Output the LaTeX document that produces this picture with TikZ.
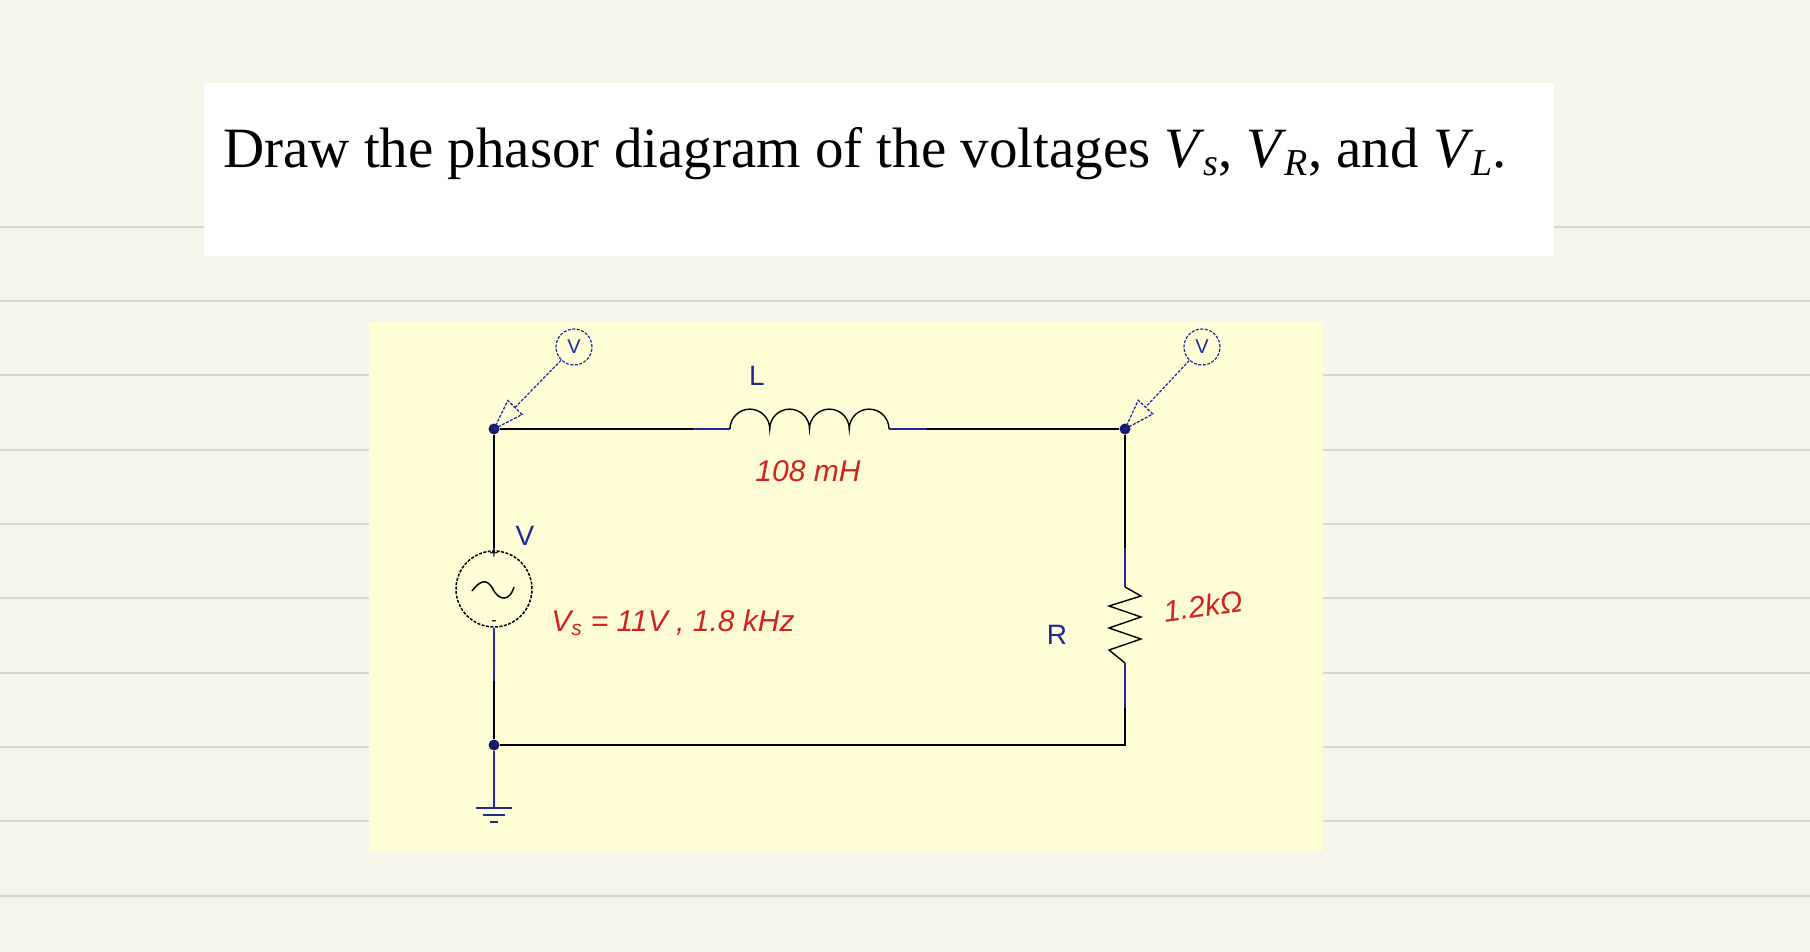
\documentclass[tikz,border=0pt]{standalone}
\usepackage{fontspec}
\setmainfont{Liberation Serif}
\newfontfamily\cadfont{Liberation Sans}
\usetikzlibrary{calc}
\definecolor{bgc}{HTML}{F5F5EA}
\definecolor{rulec}{HTML}{D6D6D0}
\definecolor{panel}{HTML}{FFFDD5}
\definecolor{wireblue}{HTML}{1E2A9A}
\definecolor{hand}{HTML}{D0231F}
\newcommand{\vsub}[1]{\textit{V}\kern-2pt\raisebox{-0.14em}{\fontsize{38}{38}\selectfont\textit{#1}}}
\tikzset{
  wire/.style={black, line width=1.6pt},
  lead/.style={wireblue, line width=1.6pt},
  probe/.style={wireblue, line width=1.2pt, dashed, dash pattern=on 3pt off 1.5pt},
  dotnode/.style={circle, fill=wireblue!70!black, inner sep=0pt, minimum size=11pt},
  vm/.style={circle, draw=wireblue, dash pattern=on 3pt off 1.5pt, line width=1.2pt, minimum size=36pt, inner sep=0pt, text=wireblue, font=\cadfont\fontsize{20}{20}\selectfont},
  cadlabel/.style={text=wireblue, font=\cadfont\fontsize{28}{28}\selectfont},
  handlabel/.style={text=hand, font=\cadfont\itshape\fontsize{30}{30}\selectfont}
}
\begin{document}
\begin{tikzpicture}[x=1pt,y=-1pt]
\fill[bgc] (0,0) rectangle (1810,952);
\useasboundingbox (0,0) rectangle (1810,952);
\foreach \yy in {227,301,375,450,524,598,673,747,821,896}
  \draw[rulec, line width=1.5pt] (0,\yy) -- (1810,\yy);
\fill[white] (204,83) rectangle (1554,256);
\node[anchor=base west, inner sep=0pt, font=\fontsize{57}{57}\selectfont] (title) at (223,168)
  {Draw the phasor diagram of the voltages \vsub{s}, \vsub{R}, and \vsub{L}.};
\fill[panel] (369,322) rectangle (1323,851);
% nodes
\node[dotnode] (n1) at (494,429) {};
\node[dotnode] (n2) at (1125,429) {};
\node[dotnode] (n3) at (494,745) {};
\coordinate (n4) at (1125,745);
% inductor
\coordinate (la) at (693,429); \coordinate (lb) at (730,429);
\coordinate (lc) at (889,429); \coordinate (ld) at (927,429);
\draw[wire] (n1) -- (la);
\draw[lead] (la) -- (lb);
\draw[black, line width=1.4pt] (lb) \foreach \i in {0,1,2,3} { arc[start angle=180,end angle=360,radius=19.875] };
\draw[lead] (lc) -- (ld);
\draw[wire] (ld) -- (n2);
\node[cadlabel] (lL) at (757,376) {L};
\node[handlabel] (lval) at (808,471) {108 mH};
% source
\node[circle, draw=black, dash pattern=on 3pt off 1.5pt, line width=1.5pt, minimum size=76pt, inner sep=0pt] (src) at (494,589) {};
\draw[black, line width=1.5pt] ($(src.center)+(-22,2)$) .. controls ($(src.center)+(-10,-14)$) and ($(src.center)+(-4,-6)$) .. ($(src.center)+(0,2)$) .. controls ($(src.center)+(6,12)$) and ($(src.center)+(16,12)$) .. ($(src.center)+(20,-2)$);
\node[font=\cadfont\fontsize{16}{16}\selectfont] (plus) at ($(src.north)+(0,4)$) {+};
\node[font=\cadfont\fontsize{16}{16}\selectfont] (minus) at ($(src.south)+(0,-5)$) {-};
\coordinate (sa) at (494,548); \coordinate (sb) at (494,681);
\draw[wire] (n1) -- (sa);
\draw[lead] (sa) -- (src.north);
\draw[lead] (src.south) -- (sb);
\draw[wire] (sb) -- (n3);
\node[cadlabel] (lV) at (525,536) {V};
\node[handlabel] (sval) at (673,623) {V\textsubscript{s} = 11V , 1.8 kHz};
% resistor
\coordinate (ra) at (1125,548); \coordinate (rb) at (1125,587);
\coordinate (rc) at (1125,663); \coordinate (rd) at (1125,708);
\draw[wire] (n2) -- (ra);
\draw[lead] (ra) -- (rb);
\draw[black, line width=1.4pt] (rb) -- ++(16,9) -- ++(-32,10) -- ++(32,11) -- ++(-32,11) -- ++(32,11) -- ++(-32,11) -- ++(16,13);
\draw[lead] (rc) -- (rd);
\draw[wire] (rd) -- (n4) -- (n3);
\node[cadlabel] (lR) at (1057,635) {R};
\node[handlabel, rotate=8, anchor=west] (rval) at (1160,612) {1.2kΩ};
% ground
\coordinate (g) at (494,808);
\draw[lead] (n3) -- (g);
\draw[wireblue, line width=1.6pt] (476,808) -- (512,808) (483,815) -- (505,815) (490,822) -- (498,822);
% voltmeter probes
\foreach \nm/\cx/\nd in {vmA/574/n1, vmB/1202/n2} {
  \node[vm] (\nm) at (\cx,347) {V};
  \coordinate (tip) at (\nd.center);
  \coordinate (base) at ($(tip)!30pt!(\nm.center)$);
  \draw[probe] (\nm) -- (base);
  \draw[wireblue, line width=1.3pt, dash pattern=on 3pt off 1.5pt] (tip) -- ($(base)!10pt!90:(tip)$) -- ($(base)!10pt!-90:(tip)$) -- cycle;
}
\end{tikzpicture}
\end{document}
